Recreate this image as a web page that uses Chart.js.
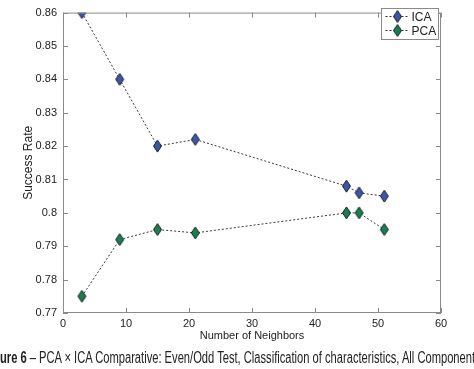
<!DOCTYPE html>
<html><head><meta charset="utf-8">
<script src="https://cdn.jsdelivr.net/npm/chart.js@4.4.0/dist/chart.umd.min.js"></script>
<style>
html,body{margin:0;padding:0;background:#fff;}
#wrap{position:relative;width:474px;height:369px;overflow:hidden;}
#c{position:absolute;left:0;top:0;}
#cap{position:absolute;left:0;top:349px;white-space:nowrap;font-family:"Liberation Sans",Arial,sans-serif;font-size:16px;line-height:18px;color:#222;transform-origin:0 0;}
</style></head>
<body><div id="wrap"><canvas id="c" width="474" height="369"></canvas>
<div id="cap"><b>Figure 6</b> – PCA × ICA Comparative: Even/Odd Test, Classification of characteristics, All Components</div></div>
<script>
const neighbors = [3, 9, 15, 21, 45, 47, 51];
const icaRate = [0.86, 0.84, 0.82, 0.822, 0.808, 0.806, 0.805];
const pcaRate = [0.775, 0.792, 0.795, 0.794, 0.8, 0.8, 0.795];
const xTicks = [0, 10, 20, 30, 40, 50, 60];
const yTicks = [0.77, 0.78, 0.79, 0.8, 0.81, 0.82, 0.83, 0.84, 0.85, 0.86];
const seriesNames = ['ICA', 'PCA'];
const seriesFill = ['#3d56a3', '#17804b'];

// condensed caption: "ure 6 ... All Componen" spans the full width, "Fig" cut off on the left
(function(){
  const m = document.createElement('canvas').getContext('2d');
  const fam = '"Liberation Sans",Arial,sans-serif';
  m.font = 'bold 16px ' + fam;
  const wFig = m.measureText('Fig').width;
  const wBold = m.measureText('Figure 6').width;
  m.font = '16px ' + fam;
  const wRest = m.measureText(' – PCA × ICA Comparative: Even/Odd Test, Classification of characteristics, All Componen').width;
  const s = 474 / (wBold + wRest - wFig);
  const cap = document.getElementById('cap');
  cap.style.transform = 'translateX(' + (-wFig * s) + 'px) scaleX(' + s + ')';
})();

function diamond(fill){
  const c = document.createElement('canvas');
  c.width = 11; c.height = 14;
  const g = c.getContext('2d');
  g.beginPath();
  g.moveTo(5.5, 1); g.lineTo(9.5, 7); g.lineTo(5.5, 13); g.lineTo(1.5, 7); g.closePath();
  g.fillStyle = fill; g.fill();
  g.lineWidth = 1; g.strokeStyle = '#1b2030'; g.stroke();
  return c;
}
const marks = seriesFill.map(diamond);

const frame = {
  id: 'frame',
  afterDraw(chart){
    const {ctx, chartArea: a, scales: {x, y}} = chart;
    ctx.save();
    ctx.strokeStyle = '#8a8a8a'; ctx.lineWidth = 1;
    ctx.strokeRect(a.left + 0.5, a.top + 0.5, a.right - a.left - 1, a.bottom - a.top - 1);
    ctx.beginPath();
    const L = 5;
    x.ticks.forEach((t, i) => {
      const px = Math.round(x.getPixelForTick(i)) + 0.5;
      ctx.moveTo(px, a.bottom); ctx.lineTo(px, a.bottom - L);
      ctx.moveTo(px, a.top); ctx.lineTo(px, a.top + L);
    });
    y.ticks.forEach((t, i) => {
      const py = Math.round(y.getPixelForTick(i)) + 0.5;
      ctx.moveTo(a.left, py); ctx.lineTo(a.left + L, py);
      ctx.moveTo(a.right, py); ctx.lineTo(a.right - L, py);
    });
    ctx.stroke();
    // legend
    const bx = 381.5, by = 8.5, bw = 57, bh = 31;
    ctx.fillStyle = '#fff';
    ctx.fillRect(bx, by, bw, bh);
    ctx.strokeStyle = '#8a8a8a';
    ctx.strokeRect(bx, by, bw, bh);
    ctx.font = '12px "Liberation Sans", Arial, sans-serif';
    ctx.textBaseline = 'middle';
    chart.data.datasets.forEach((ds, i) => {
      const yy = by + 8 + i * 14;
      ctx.strokeStyle = '#333'; ctx.setLineDash([2, 2]);
      ctx.beginPath(); ctx.moveTo(bx + 4, yy); ctx.lineTo(bx + 28, yy); ctx.stroke();
      ctx.setLineDash([]);
      ctx.drawImage(marks[i], bx + 16 - 5.5, yy - 7);
      ctx.fillStyle = '#222';
      ctx.fillText(ds.label, bx + 30, yy + 1);
    });
    ctx.restore();
  }
};

const fontFam = '"Liberation Sans", Arial, sans-serif';
new Chart(document.getElementById('c'), {
  type: 'line',
  data: {
    datasets: [
      { label: seriesNames[0], data: neighbors.map((n, i) => ({x: n, y: icaRate[i]})) },
      { label: seriesNames[1], data: neighbors.map((n, i) => ({x: n, y: pcaRate[i]})) }
    ].map((d, i) => Object.assign(d, {
      borderColor: '#3a3a3a', borderWidth: 1, borderDash: [2, 2],
      pointStyle: marks[i], pointRadius: 6, pointHoverRadius: 6,
      fill: false, tension: 0
    }))
  },
  options: {
    responsive: false, animation: false, devicePixelRatio: 1,
    layout: { padding: { left: 0, right: 33, top: 5, bottom: 24 } },
    plugins: { legend: { display: false }, tooltip: { enabled: false } },
    scales: {
      x: {
        type: 'linear', min: 0, max: 60,
        afterBuildTicks: s => { s.ticks = xTicks.map(v => ({value: v})); },
        afterFit: s => { s.height = 32; },
        grid: { display: false, drawTicks: false, tickLength: 0 }, border: { display: false },
        ticks: { color: '#222', padding: 4, font: { size: 11, family: fontFam }, maxRotation: 0 },
        title: { display: true, text: 'Number of Neighbors', color: '#222', padding: { bottom: 2 },
                 font: { size: 11, family: fontFam } }
      },
      y: {
        type: 'linear', min: 0.77, max: 0.86,
        afterBuildTicks: s => { s.ticks = yTicks.map(v => ({value: v})); },
        afterFit: s => { s.width = 63; },
        grid: { display: false, drawTicks: false, tickLength: 0 }, border: { display: false },
        ticks: { color: '#222', padding: 6, font: { size: 11, family: fontFam },
                 callback: v => String(Math.round(v * 100) / 100) },
        title: { display: true, text: 'Success Rate', color: '#222', padding: { top: 21 },
                 font: { size: 12, family: fontFam } }
      }
    }
  },
  plugins: [frame]
});
</script></body></html>
